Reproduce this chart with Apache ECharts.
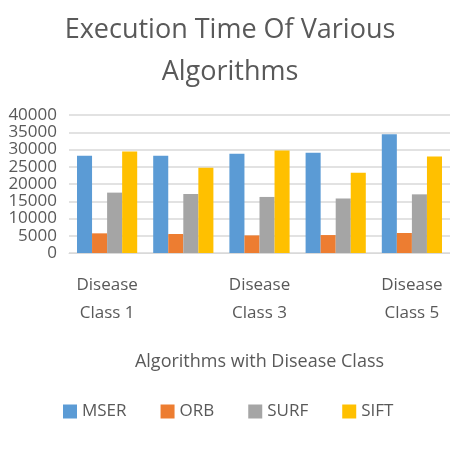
<!DOCTYPE html>
<html><head><meta charset="utf-8">
<script src="https://cdn.jsdelivr.net/npm/echarts@6/dist/echarts.min.js"></script>
<style>html,body{margin:0;padding:0;background:#fff}#c{width:450px;height:450px}</style>
</head><body><div id="c"></div>
<script>
const categories = ['Disease\nClass 1','Disease\nClass 2','Disease\nClass 3','Disease\nClass 4','Disease\nClass 5'];
const MSER = [28200, 28200, 28750, 29050, 34400];
const ORB = [5700, 5500, 5100, 5200, 5800];
const SURF = [17500, 17100, 16250, 15800, 17000];
const SIFT = [29400, 24700, 29700, 23250, 28000];
const yTicks = [0, 5000, 10000, 15000, 20000, 25000, 30000, 35000, 40000];
const colors = ['#5b9bd5','#ed7d31','#a5a5a5','#ffc000'];
const font = '"Open Sans", sans-serif';
const chart = echarts.init(document.getElementById('c'));
const mk = (name, data) => ({name, type:'bar', data, barGap:'0%', barCategoryGap:'21%'});
chart.setOption({
  animation:false,
  color: colors,
  textStyle:{fontFamily:font},
  title:{text:'Execution Time Of Various\nAlgorithms', left:225, textAlign:'center', top:4,
    textStyle:{fontSize:27, fontWeight:'normal', color:'#595959', lineHeight:42, fontFamily:font}},
  legend:{top:398, left:58, itemWidth:14, itemHeight:14, itemGap:34, icon:'rect',
    textStyle:{fontSize:17, color:'#595959', fontFamily:font}},
  grid:{left:69, width:430, top:115, height:138, containLabel:false},
  xAxis:{type:'category', data:categories, name:'Algorithms with Disease Class', nameLocation:'middle', nameGap:100,
    nameTextStyle:{fontSize:18, color:'#595959', fontFamily:font},
    axisLine:{lineStyle:{color:'#d9d9d9'}}, axisTick:{show:false},
    axisLabel:{fontSize:17, color:'#595959', lineHeight:28, margin:18, fontFamily:font}},
  yAxis:{type:'value', min:yTicks[0], max:yTicks[yTicks.length-1], interval:5000,
    axisLabel:{fontSize:17, color:'#595959', margin:12, fontFamily:font, showMinLabel:true, showMaxLabel:true,
      hideOverlap:false, formatter: v => String(v), lineHeight:14},
    splitLine:{lineStyle:{color:'#d9d9d9', width:1.5}}},
  series:[mk('MSER',MSER), mk('ORB',ORB), mk('SURF',SURF), mk('SIFT',SIFT)]
});
</script></body></html>
